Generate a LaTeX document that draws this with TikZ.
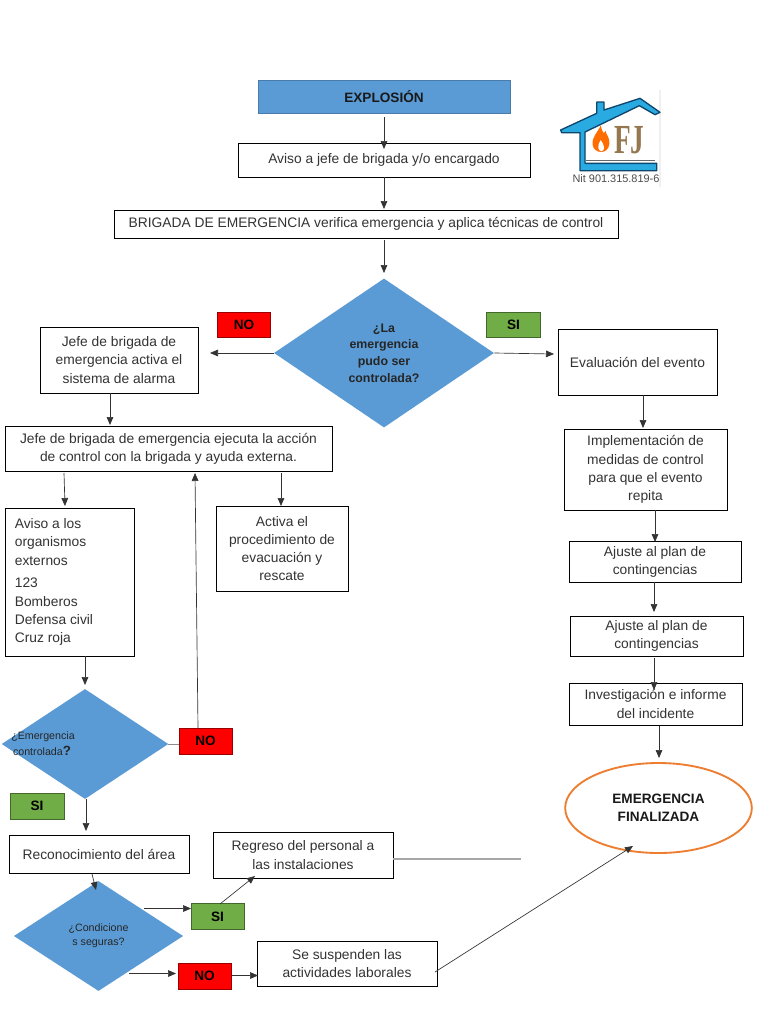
\documentclass[tikz,border=0pt]{standalone}
\usepackage{fontspec}
\setmainfont{Liberation Sans}
\newfontfamily\logoserif{Liberation Serif}
\usetikzlibrary{shapes.geometric,arrows.meta}
\definecolor{txt}{HTML}{333333}
\definecolor{dblue}{HTML}{5B9BD5}
\definecolor{gr}{HTML}{70AD47}
\definecolor{rd}{HTML}{FF0000}
\tikzset{
 bx/.style={draw=black,line width=0.75pt,fill=white,rectangle,inner sep=0pt,align=center,text=txt,font=\fontsize{10.35}{13.6}\selectfont},
 lft/.style={bx,align=left},
 dmd/.style={diamond,fill=dblue,draw=none,inner sep=0pt,aspect=1.5,align=center,text=black!85,font=\bfseries\fontsize{9.3}{12.5}\selectfont},
 tagbox/.style={rectangle,draw=#1!60!black,line width=0.6pt,fill=#1,inner sep=0pt,text=black,font=\bfseries\fontsize{10.2}{10}\selectfont},
 arr/.style={-{Triangle[length=6pt,width=5pt]},line width=0.5pt,draw=black!80},
}
\newcommand{\bxnode}[7][bx]{\node[#1,minimum width=#4*0.75pt-#2*0.75pt,minimum height=#5*0.75pt-#3*0.75pt] (#6) at ({(#2+#4)/2},{(#3+#5)/2}) {#7};}
\newcommand{\lowered}[1]{\raisebox{-1.5pt}{#1}}
\begin{document}
\begin{tikzpicture}[x=0.75pt,y=-0.75pt]
\useasboundingbox (0,0) rectangle (768,1024);
\fill[white] (0,0) rectangle (768,1024);
% boxes
\node[rectangle,draw=dblue!80!black,line width=0.6pt,fill=dblue,minimum width=189pt,minimum height=24.75pt,inner sep=0pt,text=black!90,font=\bfseries\fontsize{10.2}{11}\selectfont] (expl) at (384,97) {\raisebox{0.5pt}{EXPLOSIÓN}};
\bxnode{238}{143}{530}{177}{aviso}{\raisebox{-0.5pt}{Aviso a jefe de brigada y/o encargado}}
\bxnode{114}{210}{618}{238}{brig}{\raisebox{-0.5pt}{BRIGADA DE EMERGENCIA verifica emergencia y aplica técnicas de control}}
\node[dmd,minimum width=165pt,minimum height=111.75pt] (d1) at (384,353) {¿La\\emergencia\\pudo ser\\controlada?};
\node[tagbox=rd,minimum width=40pt,minimum height=18.75pt] (no1) at (244,324.5) {NO};
\node[tagbox=gr,minimum width=40pt,minimum height=18.75pt] (si1) at (513.5,324.5) {SI};
\bxnode{40}{327}{198}{393}{jefe}{Jefe de brigada de\\emergencia activa el\\sistema de alarma}
\bxnode{558}{329}{717}{395}{eval}{Evaluación del evento}
\bxnode{5}{426}{332}{471}{ejec}{Jefe de brigada de emergencia ejecuta la acción\\de control con la brigada y ayuda externa.}
\bxnode{564}{429}{727}{510}{impl}{Implementación de\\medidas de control\\para que el evento\\repita}
\bxnode[lft]{5}{508}{134}{656}{org}{\begin{minipage}[c]{82pt}Aviso a los\\organismos\\externos\\[3.5pt]123\\Bomberos\\Defensa civil\\Cruz roja\end{minipage}}
\bxnode{216}{506}{348}{591}{act}{Activa el\\procedimiento de\\evacuación y\\rescate}
\bxnode{569}{541}{741}{582}{aj1}{\lowered{Ajuste al plan de}\\\lowered{contingencias}}
\bxnode{570}{616}{743}{656}{aj2}{\lowered{Ajuste al plan de}\\\lowered{contingencias}}
\bxnode{569}{683}{742}{725}{inv}{Investigación e informe\\del incidente}
\node[ellipse,draw={rgb,255:red,237;green,125;blue,49},line width=1.4pt,fill=white,minimum width=140pt,minimum height=67.5pt,inner sep=0pt,align=center,text=black!90,font=\bfseries\fontsize{10.2}{13.5}\selectfont] (fin) at (658.5,808) {EMERGENCIA\\FINALIZADA};
\node[dmd,minimum width=125pt,minimum height=82.5pt] (d2) at (85,744) {};
\node[anchor=west,align=left,inner sep=0pt,text=black!85,font=\fontsize{8}{12}\selectfont] (d2t) at (11,744) {¿Emergencia\\\,controlada{\fontsize{10}{12}\selectfont\textbf{?}}};
\node[tagbox=rd,minimum width=39.75pt,minimum height=19.5pt] (no2) at (205.5,741) {NO};
\node[tagbox=gr,minimum width=40.5pt,minimum height=19.5pt] (si2) at (37,806) {SI};
\bxnode{9}{835}{189}{873}{rec}{Reconocimiento del área}
\bxnode{213}{832}{393}{878}{reg}{Regreso del personal a\\las instalaciones}
\node[dmd,minimum width=127pt,minimum height=82.5pt,font=\fontsize{8}{10.5}\selectfont] (d3) at (98.5,936) {¿Condicione\\s seguras?};
\node[tagbox=gr,minimum width=39.75pt,minimum height=20pt] (si3) at (217.5,916.5) {SI};
\node[tagbox=rd,minimum width=39.75pt,minimum height=19.5pt] (no3) at (204.5,976) {NO};
\bxnode{257}{941}{437}{986}{sus}{Se suspenden las\\actividades laborales}
% free ends
\coordinate (a1) at (384,117); \coordinate (a2) at (384,149);
\coordinate (b1) at (384,177); \coordinate (b2) at (384,209);
\coordinate (c1) at (384,240); \coordinate (c2) at (384,273);
\coordinate (e1) at (210,353);
\coordinate (f1) at (554,354);
\coordinate (g1) at (110,393); \coordinate (g2) at (110,425);
\coordinate (h1) at (643,395); \coordinate (h2) at (643,428);
\coordinate (i1) at (64,473); \coordinate (i2) at (65,506);
\coordinate (j1) at (281,473); \coordinate (j2) at (281,506);
\coordinate (k1) at (198,728); \coordinate (k2) at (195,473);
\coordinate (l1) at (655,510); \coordinate (l2) at (655,542);
\coordinate (m1) at (654,582); \coordinate (m2) at (654,612);
\coordinate (n1) at (654,658); \coordinate (n2) at (654,690);
\coordinate (o1) at (659,726); \coordinate (o2) at (659,758);
\coordinate (p1) at (85,656); \coordinate (p2) at (85,685);
\coordinate (q1) at (86,799); \coordinate (q2) at (86,831);
\coordinate (r1) at (92,874); \coordinate (r2) at (96,890);
\coordinate (s1) at (144,908.5); \coordinate (s2) at (191,908.5);
\coordinate (t1) at (220,904); \coordinate (t2) at (255,876);
\coordinate (u1) at (129,973.5); \coordinate (u2) at (176,973.5);
\coordinate (v1) at (232,975.5); \coordinate (v2) at (258,975.5);
\coordinate (w1) at (435,972); \coordinate (w2) at (633,846);
\coordinate (x1) at (168,744); \coordinate (x2) at (179,744);
\coordinate (y1) at (393,859); \coordinate (y2) at (521,859);
% connectors
\draw[arr] (a1) -- (a2);
\draw[arr] (b1) -- (b2);
\draw[arr] (c1) -- (c2);
\draw[arr] (d1.west) -- (e1);
\draw[arr] (d1.east) -- (f1);
\draw[arr] (g1) -- (g2);
\draw[arr] (h1) -- (h2);
\draw[arr] (i1) -- (i2);
\draw[arr] (j1) -- (j2);
\draw[arr] (k1) -- (k2);
\draw[arr] (l1) -- (l2);
\draw[arr] (m1) -- (m2);
\draw[arr] (n1) -- (n2);
\draw[arr] (o1) -- (o2);
\draw[arr] (p1) -- (p2);
\draw[arr] (q1) -- (q2);
\draw[arr] (r1) -- (r2);
\draw[arr] (s1) -- (s2);
\draw[arr] (t1) -- (t2);
\draw[arr] (u1) -- (u2);
\draw[arr] (v1) -- (v2);
\draw[arr] (w1) -- (w2);
\draw[draw=black!45,line width=0.6pt] (x1) -- (x2);
\draw[draw=black!35,line width=1pt] (y1) -- (y2);
% logo
\begin{scope}[shift={(540,80)},x=0.25pt,y=-0.25pt]
\fill[black!6] (358,30) rectangle (364,320);
\draw[draw={rgb,255:red,15;green,70;blue,110},line width=1pt,fill={rgb,255:red,41;green,171;blue,226},line join=round]
 (62,150) -- (170,100) -- (170,66) -- (192,66) -- (192,90) -- (300,55) -- (360,97) -- (345,104) -- (298,77) -- (135,156) -- (135,250) -- (350,250) -- (350,272) -- (120,272) -- (120,158) -- (65,158) -- cycle;
\draw[draw=black!60,line width=0.9pt] (137,241) -- (345,241);
\fill[orange!85!red] (182,136) .. controls (172,160) and (155,170) .. (158,195) .. controls (162,222) and (205,225) .. (208,192) .. controls (210,172) and (200,168) .. (196,152) .. controls (192,165) and (188,160) .. (182,136) -- cycle;
\fill[white] (182,180) .. controls (172,195) and (172,212) .. (184,214) .. controls (196,212) and (194,195) .. (182,180) -- cycle;
\node[inner sep=0pt,text={rgb,255:red,150;green,120;blue,80},font=\logoserif\bfseries\fontsize{31}{31}\selectfont] (fj) at (268,182) {\scalebox{0.66}[1]{FJ}};
\node[inner sep=0pt,text=black!70,font=\fontsize{8.2}{9}\selectfont] (nit) at (228,295) {Nit 901.315.819-6};
\end{scope}
\end{tikzpicture}
\end{document}
